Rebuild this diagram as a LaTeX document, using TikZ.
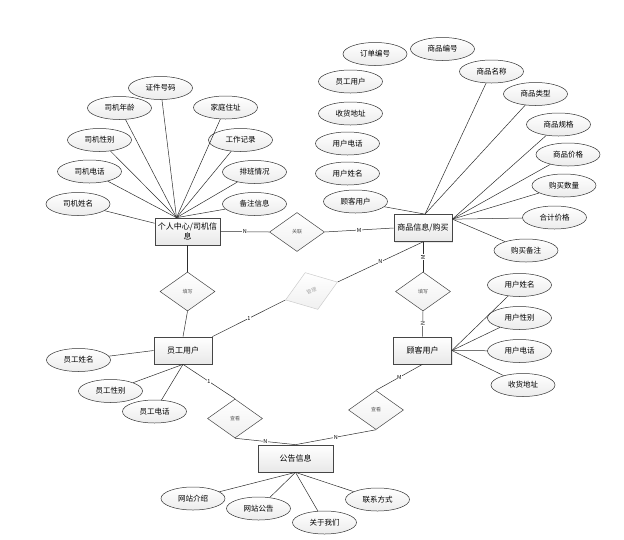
\documentclass[tikz,border=0pt]{standalone}
\usepackage{fontspec}
\setmainfont{Noto Sans CJK SC}
\usetikzlibrary{shapes.geometric,shadows}

\begin{document}
\begin{tikzpicture}[x=1pt,y=-1pt,
    entity/.style={draw=gray!55!black,line width=0.7pt,top color=white,bottom color=gray!18,
        minimum width=58pt,minimum height=27pt,inner sep=1pt,font=\fontsize{8}{10}\selectfont,
        drop shadow={shadow xshift=1pt,shadow yshift=-1pt,fill=gray!35}},
    attr/.style={ellipse,draw=gray!40!black,line width=0.5pt,top color=white,bottom color=gray!15,
        minimum width=64pt,minimum height=23pt,inner sep=0pt,font=\fontsize{7.5}{9}\selectfont},
    rel/.style={diamond,draw=gray!55!black,line width=0.5pt,top color=white,bottom color=gray!12,
        minimum width=55pt,minimum height=39pt,inner sep=0pt,font=\fontsize{5}{5}\selectfont,text=gray!70!black},
    card/.style={fill=white,inner sep=0.5pt,font=\fontsize{5.5}{6}\selectfont},
    lnk/.style={draw=gray!35!black,line width=0.5pt}]
                \useasboundingbox (0,0) rectangle (624,539);

                \node[entity,align=center,minimum width=65pt] (grzx) at (187.5,231.5) {个人中心/司机信\\息};
                \node[entity] (spxx) at (423,228) {商品信息/购买};
                \node[entity] (ygyh) at (183,350.5) {员工用户};
                \node[entity] (gkyh) at (422.5,350.5) {顾客用户};
                \node[entity,minimum width=75pt] (ggxx) at (295.5,458.5) {公告信息};

                \node[rel] (gl) at (297,232) {关联};
                \node[rel] (txz) at (187.5,291.5) {填写};
                \node[rel,draw=gray!40,text=gray!70,rotate=19] (glq) at (311.5,291) {管理};
                \node[rel] (txy) at (423,291.5) {填写};
                \node[rel] (ckz) at (235,418.5) {查看};
                \node[rel] (cky) at (376,410) {查看};

                \node[attr] (zjhm) at (160.5,88) {证件号码};
                \node[attr] (sjnl) at (119.5,108) {司机年龄};
                \node[attr] (jtzz) at (225.5,107.5) {家庭住址};
                \node[attr] (sjxb) at (99.5,140) {司机性别};
                \node[attr] (gzjl) at (240.5,140) {工作记录};
                \node[attr] (sjdh) at (89.5,171.5) {司机电话};
                \node[attr] (pbqk) at (254.5,172) {排班情况};
                \node[attr] (sjxm) at (78,204) {司机姓名};
                \node[attr] (bzxx) at (254.5,204) {备注信息};

                \node[attr] (ddbh) at (375,54) {订单编号};
                \node[attr] (spbh) at (442.5,49) {商品编号};
                \node[attr] (spyg) at (350.5,81.5) {员工用户};
                \node[attr] (spmc) at (491.5,71.5) {商品名称};
                \node[attr] (shdz) at (350.5,113.5) {收货地址};
                \node[attr] (splx) at (535.5,94) {商品类型};
                \node[attr] (yhdh) at (347.5,143.5) {用户电话};
                \node[attr] (spgg) at (558.5,124.5) {商品规格};
                \node[attr] (yhxm) at (347.5,173.5) {用户姓名};
                \node[attr] (spjg) at (568,154.5) {商品价格};
                \node[attr] (spgk) at (355.5,201.5) {顾客用户};
                \node[attr] (gmsl) at (564,185.5) {购买数量};
                \node[attr] (hjjg) at (554.5,217.5) {合计价格};
                \node[attr] (gmbz) at (526,250.5) {购买备注};

                \node[attr] (gkxm) at (519.5,285) {用户姓名};
                \node[attr] (gkxb) at (519.5,318) {用户性别};
                \node[attr] (gkdh) at (519.5,351) {用户电话};
                \node[attr] (gkdz) at (523,385) {收货地址};

                \node[attr] (ygxm) at (78.5,360) {员工姓名};
                \node[attr] (ygxb) at (110.5,391) {员工性别};
                \node[attr] (ygdh) at (154.5,411.5) {员工电话};

                \node[attr] (wzjs) at (193,498.5) {网站介绍};
                \node[attr] (wzgg) at (258.5,508.5) {网站公告};
                \node[attr] (gywm) at (324.5,522.5) {关于我们};
                \node[attr] (lxfs) at (377.5,499.5) {联系方式};

                \coordinate (grzxd) at ([xshift=-11pt]grzx.north);
                \coordinate (spxxd) at ([xshift=2pt]spxx.north);
                \coordinate (spxxr) at ([yshift=-5pt]spxx.north east);

                \draw[lnk] (zjhm) -- (grzxd);
                \draw[lnk] (sjnl) -- (grzxd);
                \draw[lnk] (jtzz) -- (grzxd);
                \draw[lnk] (sjxb) -- (grzxd);
                \draw[lnk] (gzjl) -- (grzxd);
                \draw[lnk] (sjdh) -- (grzxd);
                \draw[lnk] (pbqk) -- (grzxd);
                \draw[lnk] (bzxx) -- (grzxd);
                \draw[lnk] (sjxm) -- (grzx);

                \draw[lnk] (spgk) -- (spxxd);
                \draw[lnk] (spmc) -- (spxxd);
                \draw[lnk] (splx) -- (spxxd);
                \draw[lnk] (spgg) -- (spxxr);
                \draw[lnk] (spjg) -- (spxxr);
                \draw[lnk] (gmsl) -- (spxxr);
                \draw[lnk] (hjjg) -- (spxxr);
                \draw[lnk] (gmbz) -- (spxxr);

                \draw[lnk] (gkxm) -- (gkyh.east);
                \draw[lnk] (gkxb) -- (gkyh.east);
                \draw[lnk] (gkdh) -- (gkyh.east);
                \draw[lnk] (gkdz) -- (gkyh.east);

                \draw[lnk] (ygxm) -- (ygyh.west);
                \draw[lnk] (ygxb) -- (ygyh.south);
                \draw[lnk] (ygdh) -- (ygyh.south);

                \draw[lnk] (wzjs) -- (ggxx.south);
                \draw[lnk] (wzgg) -- (ggxx.south);
                \draw[lnk] (gywm) -- (ggxx.south);
                \draw[lnk] (lxfs) -- (ggxx.south);

                \draw[lnk] (grzx.east) -- node[card] {N} (gl.west);
                \draw[lnk] (gl.east) -- node[card] {M} (spxx.west);
                \draw[lnk] (grzx.south) -- (txz.north);
                \draw[lnk] (txz.south) -- (ygyh.north);
                \draw[lnk] (ygyh.north east) -- node[card] {1} (glq.west);
                \draw[lnk] (glq.east) -- node[card] {N} (spxx.south);
                \draw[lnk] (spxx.south) -- node[card,rotate=90] {M} (txy.north);
                \draw[lnk] (txy.south) -- node[card,rotate=90] {N} (gkyh.north);
                \draw[lnk] (ygyh.south) -- node[card] {1} (ckz.north);
                \draw[lnk] (ckz.south) -- node[card] {N} (ggxx.north);
                \draw[lnk] (gkyh.south) -- node[card] {M} (cky.north);
                \draw[lnk] (cky.south) -- node[card] {N} (ggxx.north);
            \end{tikzpicture}
\end{document}
